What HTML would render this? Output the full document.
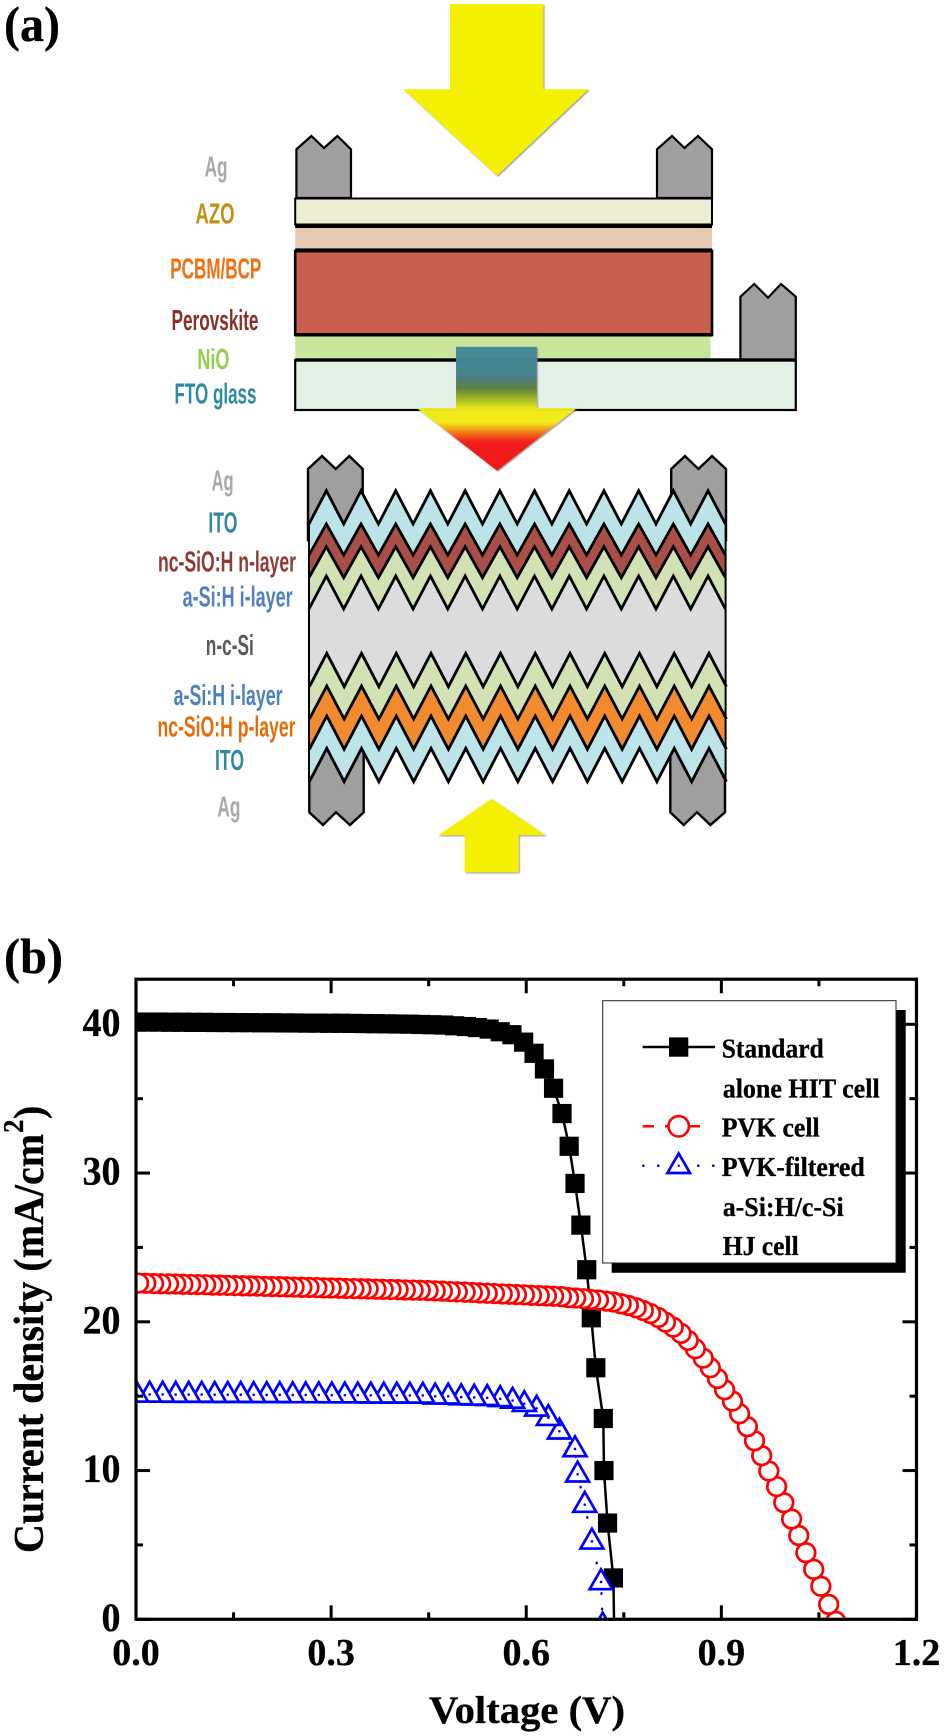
<!DOCTYPE html>
<html lang="en">
<head>
<meta charset="utf-8">
<title>Tandem cell schematic and J-V curves</title>
<style>
html,body{margin:0;padding:0;background:#fff;}
svg{display:block;}
.serif{font-family:"Liberation Serif",serif;font-weight:bold;fill:#000;stroke:#000;stroke-width:0.3px;}
.lab{font-family:"Liberation Sans",sans-serif;font-weight:bold;font-size:29px;}
</style>
</head>
<body>
<svg id="fig" xmlns="http://www.w3.org/2000/svg" width="944" height="1736" viewBox="0 0 944 1736">
<defs>
<linearGradient id="gradArrow" gradientUnits="userSpaceOnUse" x1="0" y1="346.7" x2="0" y2="470.7">
<stop offset="0" stop-color="#3f8a9d"/>
<stop offset="0.24" stop-color="#3f7f8a"/>
<stop offset="0.335" stop-color="#5b7e38"/>
<stop offset="0.46" stop-color="#c4d60c"/>
<stop offset="0.51" stop-color="#f3ec00"/>
<stop offset="0.61" stop-color="#f5ef00"/>
<stop offset="0.69" stop-color="#f77b00"/>
<stop offset="0.78" stop-color="#f50000"/>
<stop offset="1" stop-color="#f50000"/>
</linearGradient>
<clipPath id="plotClip"><rect x="136" y="979.3" width="780.5" height="640"/></clipPath>
<filter id="soft" x="-10%" y="-10%" width="120%" height="120%"><feDropShadow dx="1" dy="1" stdDeviation="0.8" flood-color="#777" flood-opacity="0.8"/></filter>
</defs>

<text class="serif" x="4" y="41" font-size="50" textLength="56" lengthAdjust="spacingAndGlyphs">(a)</text>
<text class="serif" x="4" y="973" font-size="50" textLength="59" lengthAdjust="spacingAndGlyphs">(b)</text>

<g id="panelA">
<polygon points="450,4 543.4,4 543.4,89.3 588.6,89.3 497,175.7 403.6,89.3 450,89.3" fill="#f5ef00" filter="url(#soft)"/>

<polygon points="296.4,198 296.4,149.3 311.4,136 324,148 337.4,136 351,149.3 351,198" fill="#9f9f9f" stroke="#000" stroke-width="2.2"/>
<polygon points="657,198 657,149.3 672,136 684.5,148 698,136 712,149.3 712,198" fill="#9f9f9f" stroke="#000" stroke-width="2.2"/>
<polygon points="740.4,360 740.4,296.7 754.2,284 768,297.7 781,284 795.8,296.7 795.8,360" fill="#9f9f9f" stroke="#000" stroke-width="2.2"/>

<rect x="295.2" y="198.5" width="416.8" height="26" fill="#ededd3" stroke="#000" stroke-width="2"/>
<rect x="295.2" y="226" width="416.8" height="24" fill="#e5c9b0" stroke="none"/>
<rect x="295.2" y="224" width="416.8" height="4" fill="#000"/>
<rect x="295.2" y="251" width="416.8" height="84" fill="#c85f50" stroke="#000" stroke-width="2.6"/>
<rect x="295.2" y="248.4" width="416.8" height="4" fill="#000"/>
<rect x="295.2" y="333" width="416.8" height="3.6" fill="#000"/>
<rect x="295.2" y="336.6" width="415.4" height="22" fill="#c8e69b"/>
<rect x="295.2" y="360" width="500.6" height="50" fill="#e2f0e6" stroke="#000" stroke-width="2.2"/>
<rect x="295.2" y="358.3" width="500.6" height="3.4" fill="#000"/>

<polygon points="456,346.7 536.8,346.7 536.8,408.3 576.5,408.3 497,470.7 417,408.3 456,408.3" fill="url(#gradArrow)" fill-opacity="0.94" filter="url(#soft)"/>

<text class="lab" x="204.6" y="176.7" fill="#a9a9a9" textLength="23" lengthAdjust="spacingAndGlyphs">Ag</text>
<text class="lab" x="195.5" y="223.3" fill="#c0900f" textLength="39" lengthAdjust="spacingAndGlyphs">AZO</text>
<text class="lab" x="170.3" y="278.3" fill="#f07010" textLength="91" lengthAdjust="spacingAndGlyphs">PCBM/BCP</text>
<text class="lab" x="171.5" y="330" fill="#8a3028" textLength="87" lengthAdjust="spacingAndGlyphs">Perovskite</text>
<text class="lab" x="197.4" y="369" fill="#92d050" textLength="32" lengthAdjust="spacingAndGlyphs">NiO</text>
<text class="lab" x="174.5" y="403.3" fill="#2f8aa0" textLength="82" lengthAdjust="spacingAndGlyphs">FTO glass</text>

<text class="lab" x="211.6" y="490.7" fill="#a9a9a9" textLength="22" lengthAdjust="spacingAndGlyphs">Ag</text>
<text class="lab" x="208.4" y="532.7" fill="#2f8aa0" textLength="29" lengthAdjust="spacingAndGlyphs">ITO</text>
<text class="lab" x="158" y="571.7" fill="#8f3a33" textLength="138" lengthAdjust="spacingAndGlyphs">nc-SiO:H n-layer</text>
<text class="lab" x="182.6" y="606.7" fill="#4f81bd" textLength="110" lengthAdjust="spacingAndGlyphs">a-Si:H i-layer</text>
<text class="lab" x="205.8" y="655" fill="#595959" textLength="48" lengthAdjust="spacingAndGlyphs">n-c-Si</text>
<text class="lab" x="173.6" y="705" fill="#4f81bd" textLength="109" lengthAdjust="spacingAndGlyphs">a-Si:H i-layer</text>
<text class="lab" x="157.5" y="736.7" fill="#e46c0a" textLength="138" lengthAdjust="spacingAndGlyphs">nc-SiO:H p-layer</text>
<text class="lab" x="215" y="770" fill="#2f8aa0" textLength="29" lengthAdjust="spacingAndGlyphs">ITO</text>
<text class="lab" x="217.4" y="816.7" fill="#a9a9a9" textLength="23" lengthAdjust="spacingAndGlyphs">Ag</text>

<polygon points="308,540 308,469 322,456 335.7,469 349.3,456 362.7,469 362.7,540" fill="#9f9f9f" stroke="#000" stroke-width="2.4"/>
<polygon points="671.2,540 671.2,469 685,456 698.4,469 712,456 726,469 726,540" fill="#9f9f9f" stroke="#000" stroke-width="2.4"/>
<polygon points="309.3,745 309.3,812.3 323,825 336,812.3 350,825 363.7,812.3 363.7,745" fill="#9f9f9f" stroke="#000" stroke-width="2.4"/>
<polygon points="670.3,745 670.3,812.3 683.7,825 697,812.3 710.4,825 725,812.3 725,745" fill="#9f9f9f" stroke="#000" stroke-width="2.4"/>

<g id="zigzagLayers"></g>

<polygon points="491.7,798.7 545.7,835.3 518.7,835.3 518.7,872.3 464.7,872.3 464.7,835.3 438.3,835.3" fill="#f5ef00" filter="url(#soft)"/>
</g>

<g id="chart">
<g id="marks" clip-path="url(#plotClip)"></g>
<g id="axes"></g>
<text class="serif" x="429" y="1723" font-size="39" textLength="196" lengthAdjust="spacingAndGlyphs">Voltage (V)</text>
<g transform="translate(43,1553) rotate(-90) scale(1,1.06)">
<text class="serif" x="0" y="0" font-size="40">Current density (mA/cm</text>
<text class="serif" x="420" y="-19" font-size="27">2</text>
<text class="serif" x="434" y="0" font-size="40">)</text>
</g>
<g id="legend">
<path d="M896 1010H905.7V1272.7H611.7V1263H896Z" fill="#000"/>
<rect x="602.7" y="1000.7" width="293.3" height="262.3" fill="#fff" stroke="#222" stroke-width="1"/>
<g>
<line x1="642.7" y1="1047" x2="715" y2="1047" stroke="#000" stroke-width="2.5"/>
<rect x="669" y="1037.4" width="19.3" height="19.3" fill="#000"/>
<text class="serif" x="721.7" y="1057.7" font-size="27" textLength="102" lengthAdjust="spacingAndGlyphs">Standard</text>
<text class="serif" x="722.7" y="1097.3" font-size="27" textLength="157" lengthAdjust="spacingAndGlyphs">alone HIT cell</text>
</g>
<g>
<line x1="642.7" y1="1126.3" x2="654" y2="1126.3" stroke="#f00" stroke-width="2.5"/>
<line x1="665" y1="1126.3" x2="700" y2="1126.3" stroke="#f00" stroke-width="2.5"/>
<circle cx="678.7" cy="1126.3" r="10.2" fill="#fff" stroke="#f00" stroke-width="2.6"/>
<text class="serif" x="721.7" y="1136.7" font-size="27" textLength="98" lengthAdjust="spacingAndGlyphs">PVK cell</text>
</g>
<g>
<circle cx="643.3" cy="1165.7" r="1.3" fill="#00f"/>
<circle cx="658.3" cy="1165.7" r="1.3" fill="#00f"/>
<circle cx="698.3" cy="1165.7" r="1.3" fill="#00f"/>
<circle cx="713.3" cy="1165.7" r="1.3" fill="#00f"/>
<polygon points="678.7,1153.5 690,1173 667.4,1173" fill="#fff" stroke="#00f" stroke-width="2.7"/>
<circle cx="678.7" cy="1165.7" r="1.2" fill="#00f"/>
<text class="serif" x="721.7" y="1176" font-size="27" textLength="143" lengthAdjust="spacingAndGlyphs">PVK-filtered</text>
<text class="serif" x="722.7" y="1216" font-size="27" textLength="121" lengthAdjust="spacingAndGlyphs">a-Si:H/c-Si</text>
<text class="serif" x="722.7" y="1255" font-size="27" textLength="76" lengthAdjust="spacingAndGlyphs">HJ cell</text>
</g>
</g>
</g>
</svg>

<script>
// ---------- chart data ----------
const xMajorTicks = [0, 0.3, 0.6, 0.9, 1.2];
const xTickLabels = ["0.0", "0.3", "0.6", "0.9", "1.2"];
const xMinorTicks = [0.15, 0.45, 0.75, 1.05];
const yMajorTicks = [0, 10, 20, 30, 40];
const yTickLabels = ["0", "10", "20", "30", "40"];
const yMinorTicks = [5, 15, 25, 35];

const hitVoltage = [0.000,0.018,0.035,0.053,0.070,0.088,0.105,0.123,0.140,0.158,0.175,0.193,0.210,0.228,0.245,0.263,0.280,0.298,0.315,0.333,0.350,0.368,0.385,0.403,0.420,0.438,0.455,0.473,0.490,0.508,0.525,0.543,0.560,0.578,0.596,0.612,0.628,0.642,0.655,0.666,0.675,0.684,0.693,0.700,0.707,0.7185,0.7195,0.725,0.734];
const hitCurrent = [40.15,40.15,40.15,40.14,40.14,40.13,40.13,40.12,40.12,40.11,40.11,40.10,40.10,40.09,40.09,40.08,40.08,40.07,40.07,40.06,40.05,40.04,40.03,40.02,40.01,39.99,39.97,39.95,39.90,39.85,39.78,39.68,39.50,39.3,38.8,38.05,37.0,35.7,34.0,31.8,29.3,26.5,23.5,20.27,16.91,13.5,10.0,6.47,2.78];
const hitLineEndVoltage = 0.735;
const hitLineEndCurrent = -0.2;

const pvkVoltage = [0.004,0.015,0.027,0.038,0.050,0.061,0.072,0.084,0.095,0.107,0.118,0.129,0.141,0.152,0.164,0.175,0.186,0.198,0.209,0.221,0.232,0.243,0.255,0.266,0.278,0.289,0.300,0.312,0.323,0.335,0.346,0.357,0.369,0.380,0.392,0.403,0.414,0.426,0.437,0.449,0.460,0.471,0.483,0.494,0.506,0.517,0.528,0.540,0.551,0.563,0.574,0.585,0.597,0.608,0.620,0.631,0.642,0.654,0.665,0.676,0.688,0.699,0.711,0.723,0.734,0.746,0.757,0.769,0.780,0.791,0.803,0.814,0.826,0.838,0.849,0.860,0.872,0.883,0.894,0.905,0.917,0.928,0.940,0.951,0.962,0.973,0.985,0.996,1.008,1.019,1.030,1.042,1.053,1.065,1.076];
const pvkCurrent = [22.60,22.59,22.57,22.56,22.55,22.54,22.52,22.51,22.50,22.49,22.47,22.46,22.45,22.43,22.42,22.41,22.40,22.38,22.37,22.36,22.35,22.33,22.32,22.31,22.30,22.28,22.27,22.26,22.24,22.23,22.22,22.21,22.19,22.18,22.17,22.16,22.14,22.13,22.12,22.10,22.08,22.06,22.03,22.01,21.99,21.97,21.94,21.92,21.90,21.87,21.85,21.83,21.81,21.78,21.76,21.74,21.72,21.69,21.62,21.6,21.55,21.5,21.46,21.39,21.33,21.21,21.1,20.94,20.76,20.56,20.29,19.98,19.64,19.22,18.75,18.19,17.56,16.91,16.19,15.43,14.67,13.82,12.95,12.0,11.0,9.97,8.92,7.84,6.74,5.63,4.48,3.36,2.22,1.0,-0.14];

const filteredVoltage = [0.001,0.021,0.041,0.061,0.081,0.101,0.121,0.141,0.161,0.181,0.201,0.221,0.241,0.261,0.281,0.301,0.321,0.341,0.361,0.381,0.401,0.421,0.441,0.460,0.480,0.500,0.520,0.540,0.560,0.579,0.597,0.616,0.634,0.651,0.675,0.679,0.690,0.701,0.715,0.7175];
const filteredCurrent = [15.12,15.12,15.12,15.11,15.11,15.11,15.10,15.10,15.10,15.09,15.09,15.09,15.08,15.08,15.08,15.07,15.07,15.07,15.06,15.06,15.06,15.05,15.05,14.99,14.99,14.94,14.92,14.89,14.82,14.71,14.49,14.18,13.55,12.64,11.45,9.75,7.71,5.24,2.51,-0.4];

// ---------- axis functions ----------
const xOf = v => 136 + 650.4 * v;
const yOf = j => 1619.3 - 14.875 * j;

const NS = "http://www.w3.org/2000/svg";
function mk(tag, attrs, parent, text) {
  const n = document.createElementNS(NS, tag);
  for (const k in attrs) n.setAttribute(k, attrs[k]);
  if (text !== undefined) n.textContent = text;
  parent.appendChild(n);
  return n;
}
const marks = document.getElementById("marks");
const axes = document.getElementById("axes");

// black series: line + squares
{
  const pts = hitVoltage.map((v, i) => xOf(v) + "," + yOf(hitCurrent[i]));
  pts.push(xOf(hitLineEndVoltage) + "," + yOf(hitLineEndCurrent));
  const line = mk("polyline", {points: pts.join(" "), fill: "none", stroke: "#000", "stroke-width": 2.5}, marks);
  
  
  hitVoltage.forEach((v, i) => {
    const s = mk("rect", {x: xOf(v) - 9.6, y: yOf(hitCurrent[i]) - 9.6, width: 19.2, height: 19.2, fill: "#000"}, marks);
    
    
  });
}
// red series: circles drawn right to left
for (let i = pvkVoltage.length - 1; i >= 0; i--) {
  const c = mk("circle", {cx: xOf(pvkVoltage[i]), cy: yOf(pvkCurrent[i]), r: 9.3, fill: "#fff", stroke: "#f00", "stroke-width": 2.7}, marks);
  
  
}
// blue series: dotted line + triangles drawn right to left
{
  const line = mk("polyline", {points: filteredVoltage.map((v, i) => xOf(v) + "," + yOf(filteredCurrent[i])).join(" "), fill: "none", stroke: "#00f", "stroke-width": 2.4, "stroke-linecap": "round", "stroke-dasharray": "0.5 15"}, marks);
  
  
  for (let i = filteredVoltage.length - 1; i >= 0; i--) {
    const px = xOf(filteredVoltage[i]), py = yOf(filteredCurrent[i]);
    const t = mk("polygon", {points: px + "," + (py - 12.6) + " " + (px + 11.4) + "," + (py + 7.2) + " " + (px - 11.4) + "," + (py + 7.2), fill: "#fff", stroke: "#00f", "stroke-width": 2.7}, marks);
    
    
    const d = mk("circle", {cx: px, cy: py, r: 1.3, fill: "#00f"}, marks);
    
    
  }
}
// axes frame and ticks
{
  const frame = mk("rect", {x: xOf(0), y: yOf(43.03), width: xOf(1.2) - xOf(0), height: yOf(0) - yOf(43.03), fill: "none", stroke: "#000", "stroke-width": 3.2}, axes);
  
  
  const top = yOf(43.03), bottom = yOf(0), left = xOf(0), right = xOf(1.2);
  const xTick = (v, len, name) => {
    [[bottom, bottom - len], [top, top + len]].forEach(p => {
      const l = mk("line", {x1: xOf(v), x2: xOf(v), y1: p[0], y2: p[1], stroke: "#000", "stroke-width": 3}, axes);
      
      
    });
  };
  const yTick = (j, len, name) => {
    [[left, left + len], [right, right - len]].forEach(p => {
      const l = mk("line", {x1: p[0], x2: p[1], y1: yOf(j), y2: yOf(j), stroke: "#000", "stroke-width": 3}, axes);
      
      
    });
  };
  xMajorTicks.forEach(v => xTick(v, 14, 'x-major-tick'));
  xMinorTicks.forEach(v => xTick(v, 7, 'x-minor-tick'));
  yMajorTicks.forEach(j => yTick(j, 14, 'y-major-tick'));
  yMinorTicks.forEach(j => yTick(j, 7, 'y-minor-tick'));
  xMajorTicks.forEach((v, i) => {
    const t = mk("text", {class: "serif", x: xOf(v), y: 1665, "font-size": 38, "text-anchor": "middle"}, axes, xTickLabels[i]);
    
    
  });
  yMajorTicks.forEach((j, i) => {
    const t = mk("text", {class: "serif", x: 120.5, y: yOf(j) + 11.5, "font-size": 40, "text-anchor": "end", textLength: 19 * yTickLabels[i].length, lengthAdjust: "spacingAndGlyphs"}, axes, yTickLabels[i]);
    
    
  });
}

// ---------- textured layer stack in panel (a) ----------
const zig = document.getElementById("zigzagLayers");
function zigPts(x0, step, valley, peak) {
  const out = [];
  for (let k = 0; k <= 24; k++) out.push([x0 + step * k, k % 2 ? peak : valley]);
  return out;
}
const upperStart = 309, upperStep = 17.35, lowerStart = 309.4, lowerStep = 17.375;
const upperEdges = [[524, 490.7], [555, 524], [577.7, 546.7], [609, 576]];
const upperFills = ["#bce3e8", "#a85048", "#d2e2b5"];
const upperNames = ["ito-top-layer", "n-layer", "i-layer-top"];
const lowerEdges = [[686.7, 653.3], [719, 686], [749.3, 716], [781.7, 748.3]];
const lowerFills = ["#d2e2b5", "#f28a2f", "#bde4e9"];
const lowerNames = ["i-layer-bottom", "p-layer", "ito-bottom-layer"];

const wafer = mk("polygon", {
  points: zigPts(upperStart, upperStep, 609, 576).map(p => p.join(",")).join(" ") + " " +
          zigPts(lowerStart, lowerStep, 686.7, 653.3).reverse().map(p => p.join(",")).join(" "),
  fill: "#dcdcdc"}, zig);



function band(start, step, a, b, fill, name) {
  const p = mk("polygon", {
    points: zigPts(start, step, a[0], a[1]).map(q => q.join(",")).join(" ") + " " +
            zigPts(start, step, b[0], b[1]).reverse().map(q => q.join(",")).join(" "),
    fill: fill}, zig);
  
  
}
upperFills.forEach((f, i) => band(upperStart, upperStep, upperEdges[i], upperEdges[i + 1], f, upperNames[i]));
lowerFills.forEach((f, i) => band(lowerStart, lowerStep, lowerEdges[i], lowerEdges[i + 1], f, lowerNames[i]));

function edge(start, step, e) {
  const l = mk("polyline", {points: zigPts(start, step, e[0], e[1]).map(q => q.join(",")).join(" "), fill: "none", stroke: "#000", "stroke-width": 2.8, "stroke-linejoin": "miter"}, zig);
  
  
}
upperEdges.forEach(e => edge(upperStart, upperStep, e));
lowerEdges.forEach(e => edge(lowerStart, lowerStep, e));

[[309, 524, 782], [725.6, 524, 782]].forEach(s => {
  const l = mk("line", {x1: s[0], x2: s[0], y1: s[1], y2: s[2], stroke: "#000", "stroke-width": 2}, zig);
  
  
});
</script>
</body>
</html>
